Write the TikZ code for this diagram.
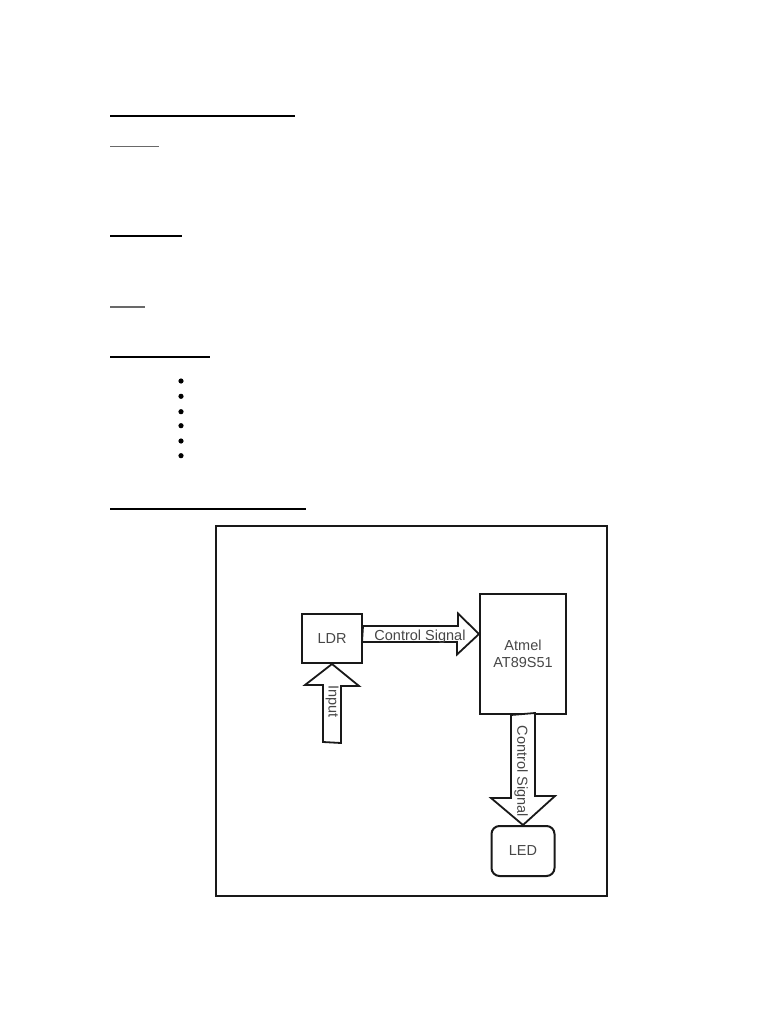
\documentclass[tikz,border=0pt]{standalone}
\usepackage{fontspec}
\setmainfont{Liberation Sans}
\usepackage{tikz}
\usetikzlibrary{calc}
\definecolor{rulegray}{RGB}{105,105,105}
\definecolor{inkblack}{RGB}{25,25,25}

\begin{document}
\begin{tikzpicture}[x=1pt, y=-1pt,
  block/.style={draw=inkblack, line width=2pt, minimum width=60, minimum height=49, inner sep=0pt, font=\fontsize{14.5}{17}\selectfont, text=black!72},
  fatarrow/.style={draw=inkblack, line width=1.8pt, fill=white, line join=miter},
  lbl/.style={font=\fontsize{14.5}{17}\selectfont, text=black!72, inner sep=0pt}]
  \useasboundingbox (0,0) rectangle (768,1024);

  % Heading rules
  \draw[line width=2.2pt, black] (110,115.7) -- (295,115.7);
  \draw[line width=1.6pt, rulegray] (110,146.7) -- (159,146.7);
  \draw[line width=1.2pt, black] (110,236) -- (182,236);
  \draw[line width=1.6pt, rulegray] (110,306.7) -- (145,306.7);
  \draw[line width=1.3pt, black] (110,357) -- (210,357);
  \draw[line width=2.2pt, black] (110,509.3) -- (306,509.3);

  % Bullets
  \fill (181,381) circle (2.6);
  \fill (181,396.3) circle (2.6);
  \fill (181,411.7) circle (2.6);
  \fill (181,425.7) circle (2.6);
  \fill (181,441) circle (2.6);
  \fill (181,455.7) circle (2.6);

  % Frame
  \draw[line width=2.2pt, inkblack] (216,526) rectangle (607,896);

  % Blocks
  \node[block] (ldr) at (332,638.5) {LDR};
  \node[block, minimum width=86, minimum height=120, align=center] (atmel) at (523,654) {Atmel\\AT89S51};
  \node[block, minimum width=63, minimum height=50, rounded corners=8pt] (led) at (523,851) {LED};

  % LDR -> Atmel
  \coordinate (ctlin) at (ldr.east |- 0,634);
  \coordinate (ctlout) at (atmel.west |- 0,634);
  \draw[fatarrow] (ctlin) ++(0,-8) -- ++(95,0) -- ++(0,-12.5) -- (ctlout) -- ++(-22,20.5) -- ++(0,-12.5) -- ++(-95,0) -- cycle;
  \node[lbl, anchor=base] (ctllabel) at (420,640.7) {Control Signal};

  % Input -> LDR
  \coordinate (inbase) at (ldr.south |- 0,742);
  \draw[fatarrow] (inbase) ++(-9,0) -- ++(0,-57) -- ++(-18,0) -- (ldr.south) -- ++(27,22) -- ++(-18,0) -- ++(0,57) -- cycle;
  \node[lbl, rotate=-90] (inlabel) at (332,701.5) {Input};

  % Atmel -> LED
  \draw[fatarrow] (atmel.south) ++(-12,0) -- ++(0,83) -- ++(-20,0) -- (led.north) -- ++(32,-29) -- ++(-20,0) -- ++(0,-83) -- cycle;
  \node[lbl, rotate=-90] (outlabel) at (521,771.5) {Control Signal};
\end{tikzpicture}
\end{document}
